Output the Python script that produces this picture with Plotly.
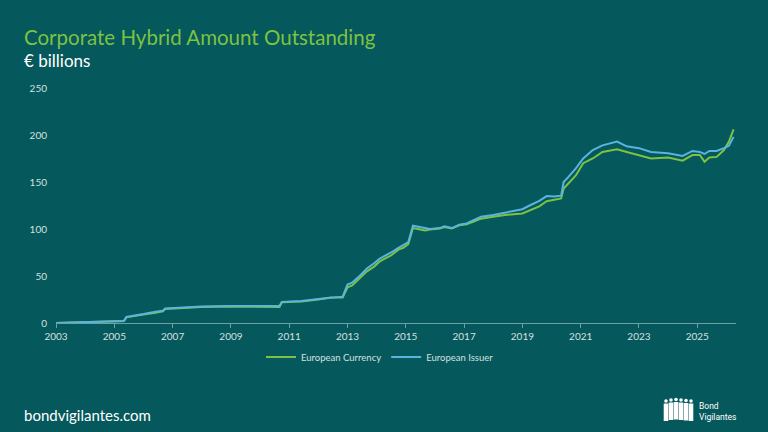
import plotly.graph_objects as go

dates = ["2003-01-01", "2004-01-01", "2005-01-01", "2005-05-01", "2005-06-01", "2005-09-01",
         "2006-01-01", "2006-06-01", "2006-09-01", "2006-10-01", "2007-06-01", "2008-01-01",
         "2009-01-01", "2010-01-01", "2010-09-01", "2010-10-01", "2011-06-01", "2012-01-01",
         "2012-06-01", "2012-11-01", "2013-01-01", "2013-03-01", "2013-06-01", "2013-09-01",
         "2013-12-01", "2014-02-01", "2014-04-01", "2014-07-01", "2014-10-01", "2014-12-01",
         "2015-02-01", "2015-04-01", "2015-07-01", "2015-09-01", "2015-11-01", "2016-03-01",
         "2016-05-01", "2016-08-01", "2016-11-01", "2017-02-01", "2017-05-01", "2017-08-01",
         "2018-01-01", "2018-06-01", "2019-01-01", "2019-04-01", "2019-08-01", "2019-11-01",
         "2020-02-01", "2020-05-01", "2020-06-01", "2020-08-01", "2020-11-01", "2021-02-01",
         "2021-06-01", "2021-10-01", "2022-04-01", "2022-08-01", "2023-01-01", "2023-06-01",
         "2024-01-01", "2024-07-01", "2024-11-01", "2025-02-01", "2025-04-01", "2025-06-01",
         "2025-09-01", "2025-12-01", "2026-02-01", "2026-04-01"]

european_currency = [0, 0.8, 1.5, 2, 6, 7, 9, 11, 12.5, 15, 16, 17, 17.5, 17, 17, 22, 23, 25,
                     27, 27, 38, 40, 47, 55, 60, 65, 68, 72, 78, 80, 84, 101, 99.5, 98.5, 99.5,
                     100.5, 102, 100.5, 104, 105, 108, 111, 113, 115, 116.5, 119.5, 124, 129.5,
                     131, 132.5, 143, 148.5, 157, 170, 175, 182, 184.8, 182, 178.7, 175, 176,
                     172.7, 178.7, 178.7, 171.6, 176, 176.7, 184, 193, 206]

european_issuer = [0, 0.8, 1.5, 2, 6.4, 7.5, 9.5, 12, 13, 15.5, 16.5, 17.5, 18, 18, 18, 22.5,
                   23.5, 25.5, 27, 28, 41, 43, 50, 58, 63.5, 68, 71, 75, 80, 83, 86, 103.5, 102,
                   101, 100, 101, 103, 101, 104.5, 106, 109.5, 113, 115, 117.5, 121, 125, 130,
                   135, 134.5, 135.5, 150, 155.5, 164.5, 175, 184, 189, 193, 188, 186, 182, 180.5,
                   177.7, 183, 182, 179.8, 183, 183, 186, 188.6, 198]

year_ticks = [f"{y}-01-01" for y in range(2003, 2026, 2)]
year_labels = [str(y) for y in range(2003, 2026, 2)]
y_ticks = [0, 50, 100, 150, 200, 250]

BG = "#05585B"
GREEN = "#7DC242"
BLUE = "#5AB4E0"
AXIS = "#6F9FA0"
TICKTXT = "#D5E0E0"
FONT = "Lato"

PL, PT, PW, PH = 56, 88, 680, 235


def px(xp):
    return (xp - PL) / PW


def py(yp):
    return 1 - (yp - PT) / PH


fig = go.Figure()
fig.add_trace(go.Scatter(x=dates, y=european_currency, mode="lines", name="European Currency",
                         line=dict(color=GREEN, width=2)))
fig.add_trace(go.Scatter(x=dates, y=european_issuer, mode="lines", name="European Issuer",
                         line=dict(color=BLUE, width=2)))

fig.update_layout(
    width=768, height=432,
    margin=dict(l=56, r=32, t=88, b=109),
    paper_bgcolor=BG, plot_bgcolor=BG,
    font=dict(family=FONT, color=TICKTXT, size=10),
    showlegend=True,
    legend=dict(orientation="h", x=px(261), xanchor="left", y=py(357), yanchor="middle",
                font=dict(size=9.5, color=TICKTXT), bgcolor="rgba(0,0,0,0)", itemwidth=30,
                traceorder="normal"),
    xaxis=dict(range=["2003-01-01", "2026-05-01"], tickvals=year_ticks, ticktext=year_labels,
               showgrid=False, zeroline=False, showline=True, linecolor=AXIS, linewidth=1,
               ticks="outside", ticklen=4, tickcolor=AXIS, tickfont=dict(size=10, color=TICKTXT)),
    yaxis=dict(range=[0, 250], tickvals=y_ticks, showgrid=False, zeroline=False,
               showline=False, ticks="", ticklabelstandoff=8,
               tickfont=dict(size=10, color=TICKTXT)),
    annotations=[
        dict(text="Corporate Hybrid Amount Outstanding", xref="paper", yref="paper",
             x=px(22), y=py(23), xanchor="left", yanchor="top", showarrow=False,
             font=dict(family=FONT, size=20.5, color=GREEN)),
        dict(text="€ billions", xref="paper", yref="paper",
             x=px(22), y=py(48), xanchor="left", yanchor="top", showarrow=False,
             font=dict(family=FONT, size=17, color="#FFFFFF")),
        dict(text="bondvigilantes.com", xref="paper", yref="paper",
             x=px(22), y=py(404), xanchor="left", yanchor="top", showarrow=False,
             font=dict(family=FONT, size=15, color="#FFFFFF")),
        dict(text="Bond<br>Vigilantes", xref="paper", yref="paper", align="left",
             x=px(697), y=py(399), xanchor="left", yanchor="top",
             showarrow=False, font=dict(family="Roboto", size=8.5, color="#FFFFFF")),
    ],
)

# small white figure silhouettes for the logo
shapes = []
heads = [(666, 401), (671, 400), (676, 399.5), (681, 400), (686, 400.5), (691, 401)]
for hx, hy in heads:
    shapes.append(dict(type="circle", xref="paper", yref="paper",
                       x0=px(hx - 1.8), x1=px(hx + 1.8),
                       y0=py(hy + 1.8), y1=py(hy - 1.8),
                       fillcolor="#FFFFFF", line=dict(width=0)))
    shapes.append(dict(type="rect", xref="paper", yref="paper",
                       x0=px(hx - 2.3), x1=px(hx + 2.3),
                       y0=py(hy + 20), y1=py(hy + 2.5),
                       fillcolor="#FFFFFF", line=dict(width=0)))
fig.update_layout(shapes=shapes)

fig.write_html("out.html")
